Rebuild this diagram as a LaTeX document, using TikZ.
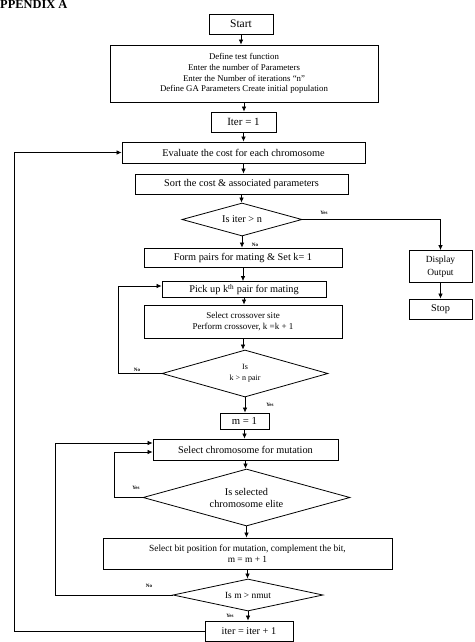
\documentclass[tikz,border=0pt]{standalone}
\usepackage{fontspec}
\setmainfont{Liberation Serif}
\usetikzlibrary{arrows.meta,shapes.geometric}
\newcommand{\fs}[1]{\fontsize{#1}{#1}\selectfont}
\begin{document}
\begin{tikzpicture}[x=1pt,y=-1pt,
  box/.style={draw,line width=0.8pt,inner sep=0pt,align=center,font=\fs{10.3}},
  dia/.style={draw,diamond,line width=0.8pt,inner sep=0pt,align=center,font=\fs{10.3}},
  arr/.style={line width=0.7pt,-{Latex[length=5pt,width=4.5pt]}},
  lab/.style={font=\bfseries\fs{5},inner sep=0pt}]
\useasboundingbox (0,0) rectangle (474,642);
\node[font=\bfseries\fs{12.4},inner sep=0pt,anchor=base west] (title) at (0,8.5) {PPENDIX A};

\node[box,minimum width=64pt,minimum height=20pt,font=\fs{11.5}] (start) at (241,24) {Start};
\node[box,minimum width=268pt,minimum height=57pt,font=\fontsize{8.8}{10.7}\selectfont] (define) at (244,73.5)
  {Define test function\\Enter the number of Parameters\\Enter the Number of iterations “n”\\Define GA Parameters Create initial population};
\node[box,minimum width=65pt,minimum height=20pt,font=\fs{11}] (iter1) at (243.5,122) {Iter = 1};
\node[box,minimum width=243pt,minimum height=21pt] (eval) at (243.5,152.5) {Evaluate the cost for each chromosome};
\node[box,minimum width=213pt,minimum height=20pt] (sort) at (241.5,184) {Sort the cost \& associated parameters};
\node[dia,minimum width=120pt,minimum height=33pt,aspect=3.6] (d1) at (242,219.5) {Is iter \textgreater{} n};
\node[box,minimum width=198pt,minimum height=19pt] (form) at (243,257.5) {Form pairs for mating \& Set k= 1};
\node[box,minimum width=63pt,minimum height=32pt,font=\fontsize{9.4}{13}\selectfont] (display) at (440.5,266.5) {Display\\Output};
\node[box,minimum width=63pt,minimum height=20pt] (stop) at (440.5,309) {Stop};
\node[box,minimum width=164pt,minimum height=16pt] (pick) at (244,289.5) {Pick up k\textsuperscript{th} pair for mating};
\node[box,minimum width=198pt,minimum height=33pt,font=\fontsize{9}{10.5}\selectfont] (cross) at (243,321.5)
  {Select crossover site\\Perform crossover, k =k + 1};
\node[dia,minimum width=166pt,minimum height=47pt,aspect=3.5,font=\fontsize{8}{11}\selectfont] (d2) at (245,373.5) {Is\\k \textgreater{} n pair};
\node[box,minimum width=49pt,minimum height=16pt,font=\fs{10.7}] (m1) at (244.5,421) {m = 1};
\node[box,minimum width=185pt,minimum height=21pt] (selchr) at (245.5,449.5) {Select chromosome for mutation};
\node[dia,minimum width=207pt,minimum height=57pt,aspect=3.6,font=\fontsize{10.3}{12}\selectfont] (d3) at (246.5,497.5) {Is selected\\chromosome elite};
\node[box,minimum width=289pt,minimum height=31pt,font=\fontsize{9.4}{11}\selectfont] (bit) at (247.5,553.5)
  {Select bit position for mutation, complement the bit,\\m = m + 1};
\node[dia,minimum width=150pt,minimum height=32pt,aspect=4.7,font=\fs{9.4}] (d4) at (248,595) {Is m \textgreater{} nmut};
\node[box,minimum width=88pt,minimum height=20pt] (iterinc) at (249,631) {iter = iter + 1};

% main flow
\draw[arr] (start.south) -- (start.south |- define.north);
\draw[arr] (define.south) -- (define.south |- iter1.north);
\draw[arr] (iter1.south) -- (iter1.south |- eval.north);
\draw[arr] (eval.south) -- (eval.south |- sort.north);
\draw[arr] (sort.south) -- (sort.south |- d1.north);
\draw[arr] (d1.south) -- (d1.south |- form.north);
\draw[arr] (form.south) -- (form.south |- pick.north);
\draw[arr] (pick.south) -- (pick.south |- cross.north);
\draw[arr] (cross.south) -- (cross.south |- d2.north);
\draw[arr] (d2.south) -- (d2.south |- m1.north);
\draw[arr] (m1.south) -- (m1.south |- selchr.north);
\draw[arr] (selchr.south) -- (selchr.south |- d3.north);
\draw[arr] (d3.south) -- (d3.south |- bit.north);
\draw[arr] (bit.south) -- (bit.south |- d4.north);
\draw[arr] (d4.south) -- (d4.south |- iterinc.north);
% yes branch to display
\draw[arr] (d1.east) -| (display.north);
\draw[arr] (display.south) -- (stop.north);
% loops
\draw[arr] (iterinc.west) -| (14,152.5) -- (eval.west);
\draw[arr] (d2.west) -| (118,286) -- ([yshift=3.5pt]pick.west);
\draw[arr] (d4.west) -| (55,443) -- ([yshift=6.5pt]selchr.west);
\draw[arr] (d3.west) -| (114,452) -- ([yshift=-2.5pt]selchr.west);

% labels
\node[lab] (y1) at (324,213) {Yes};
\node[lab] (n1) at (255,245) {No};
\node[lab] (n2) at (137,370) {No};
\node[lab] (y2) at (270,405) {Yes};
\node[lab] (y3) at (136,488) {Yes};
\node[lab] (n4) at (149,586) {No};
\node[lab] (y4) at (230,616) {Yes};
\end{tikzpicture}
\end{document}
